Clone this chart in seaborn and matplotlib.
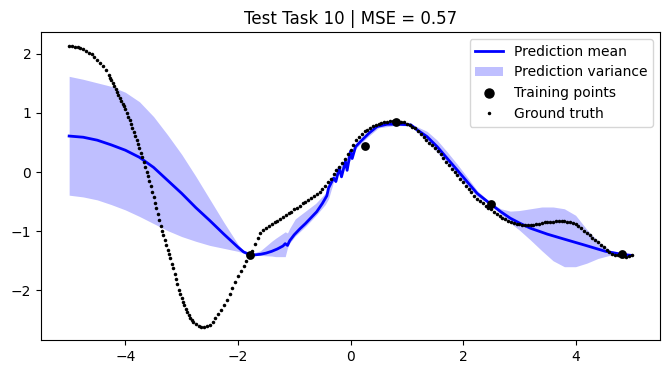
import numpy as np
import pandas as pd
import seaborn as sns
import matplotlib.pyplot as plt
from matplotlib.lines import Line2D
from matplotlib.patches import Patch

# ground truth (three sampling segments, denser where the curve is steep)
gt_y1 = [2.13, 2.13, 2.12, 2.11, 2.10, 2.08, 2.05, 2.02, 1.99, 1.95, 1.90, 1.85, 1.79, 1.72, 1.64]
gt_y2 = [1.60, 1.55, 1.51, 1.46, 1.41, 1.36, 1.31, 1.26, 1.21, 1.16, 1.11, 1.06,
         1.00, 0.94, 0.88, 0.82, 0.75, 0.68, 0.61, 0.54, 0.47, 0.40, 0.32, 0.25,
         0.17, 0.09, 0.01, -0.07, -0.15, -0.24, -0.33, -0.42, -0.52, -0.61, -0.71, -0.81,
         -0.91, -0.99, -1.07, -1.15, -1.23, -1.31, -1.39, -1.46, -1.55, -1.63, -1.72, -1.81,
         -1.90, -1.99, -2.07, -2.13, -2.19, -2.25, -2.31, -2.36, -2.41, -2.46, -2.50, -2.53]
gt_y3 = [-2.57, -2.60, -2.62, -2.62, -2.61, -2.58, -2.53, -2.47, -2.40, -2.33,
         -2.25, -2.16, -2.06, -1.96, -1.86, -1.76, -1.67, -1.59, -1.51, -1.44,
         -1.33, -1.21, -1.11, -1.03, -0.98, -0.94, -0.91, -0.88, -0.85, -0.82,
         -0.79, -0.76, -0.73, -0.70, -0.67, -0.63, -0.60, -0.57, -0.53, -0.50,
         -0.47, -0.44, -0.41, -0.37, -0.33, -0.28, -0.23, -0.17, -0.11, -0.04,
         0.03, 0.09, 0.16, 0.22, 0.30, 0.38, 0.46, 0.54, 0.60, 0.65,
         0.69, 0.72, 0.75, 0.78, 0.80, 0.82, 0.83, 0.84, 0.85, 0.86,
         0.86, 0.86, 0.86, 0.85, 0.84, 0.82, 0.80, 0.77, 0.74, 0.70,
         0.65, 0.60, 0.55, 0.50, 0.46, 0.41, 0.36, 0.30, 0.24, 0.17,
         0.12, 0.06, 0.01, -0.05, -0.11, -0.17, -0.23, -0.29, -0.34, -0.40,
         -0.45, -0.49, -0.53, -0.57, -0.60, -0.63, -0.67, -0.71, -0.75, -0.78,
         -0.80, -0.82, -0.84, -0.86, -0.87, -0.88, -0.89, -0.90, -0.90, -0.89,
         -0.89, -0.88, -0.87, -0.86, -0.85, -0.85, -0.84, -0.84, -0.83, -0.83,
         -0.83, -0.83, -0.84, -0.85, -0.86, -0.88, -0.91, -0.95, -0.99, -1.03,
         -1.07, -1.11, -1.15, -1.19, -1.23, -1.27, -1.31, -1.35, -1.38, -1.40,
         -1.41, -1.42, -1.42, -1.43, -1.42, -1.41]
gt_x = np.concatenate([np.linspace(-5.0, -4.3, len(gt_y1)),
                       np.linspace(-4.275, -2.8, len(gt_y2)),
                       np.linspace(-2.75, 5.0, len(gt_y3))])
gt_y = gt_y1 + gt_y2 + gt_y3

# prediction mean
mean_x = [-5.0, -4.75, -4.5, -4.25, -4.0, -3.75, -3.5, -3.25, -3.0, -2.75, -2.5, -2.25,
          -2.0, -1.9, -1.78, -1.7, -1.6, -1.5, -1.4, -1.3, -1.2, -1.16, -1.12, -1.08, -1.0,
          -0.9, -0.8, -0.7, -0.6, -0.5, -0.42, -0.39, -0.30, -0.26, -0.20, -0.16, -0.09, -0.06,
          0.0, 0.03, 0.09, 0.18, 0.33, 0.47, 0.65, 0.83, 1.07, 1.19, 1.36, 1.54, 1.72, 1.9,
          2.07, 2.25, 2.49, 2.67, 2.84, 3.0, 3.2, 3.5, 3.82, 4.18, 4.53, 4.82, 5.0]
mean_y = [0.61, 0.59, 0.54, 0.46, 0.37, 0.25, 0.08, -0.14, -0.36, -0.60, -0.82, -1.05,
          -1.27, -1.35, -1.40, -1.40, -1.39, -1.37, -1.34, -1.30, -1.25, -1.21, -1.24, -1.16, -1.06,
          -0.96, -0.87, -0.77, -0.67, -0.53, -0.40, -0.27, -0.10, -0.16, 0.07, -0.08, 0.18, 0.03,
          0.35, 0.23, 0.43, 0.52, 0.66, 0.77, 0.81, 0.81, 0.80, 0.71, 0.60, 0.43, 0.23, 0.03,
          -0.16, -0.36, -0.54, -0.67, -0.78, -0.86, -0.95, -1.05, -1.14, -1.24, -1.34, -1.39, -1.41]

# prediction variance band
band_x = [-5.0, -4.75, -4.5, -4.25, -4.0, -3.75, -3.5, -3.25, -3.0, -2.75, -2.5, -2.25,
          -2.0, -1.9, -1.78, -1.6, -1.4, -1.33, -1.16, -1.12, -1.08, -0.98, -0.8, -0.62,
          -0.45, -0.39, -0.3, -0.2, -0.1, 0.0, 0.1, 0.2, 0.35, 0.5, 0.8, 1.07, 1.2, 1.36,
          1.54, 1.72, 1.9, 2.07, 2.25, 2.49, 2.67, 2.84, 3.0, 3.2, 3.4, 3.6, 3.8, 4.0, 4.2,
          4.4, 4.6, 4.82, 5.0]
band_upper = [1.62, 1.57, 1.51, 1.45, 1.35, 1.19, 0.94, 0.63, 0.30, -0.07, -0.46, -0.85,
              -1.22, -1.33, -1.39, -1.33, -1.17, -1.12, -1.01, -1.03, -0.95, -0.79, -0.66, -0.53,
              -0.36, -0.28, -0.08, 0.09, 0.22, 0.37, 0.47, 0.57, 0.69, 0.80, 0.83, 0.82, 0.76, 0.69,
              0.54, 0.34, 0.13, -0.08, -0.31, -0.52, -0.62, -0.66, -0.65, -0.62, -0.59, -0.59, -0.62,
              -0.73, -0.97, -1.17, -1.32, -1.38, -1.40]
band_lower = [-0.39, -0.42, -0.47, -0.55, -0.64, -0.75, -0.87, -0.99, -1.09, -1.17, -1.24, -1.29,
              -1.34, -1.37, -1.41, -1.41, -1.42, -1.43, -1.43, -1.28, -1.20, -1.08, -0.92, -0.74,
              -0.55, -0.45, -0.16, -0.02, 0.10, 0.20, 0.40, 0.50, 0.63, 0.75, 0.79, 0.78, 0.67, 0.53,
              0.34, 0.14, -0.05, -0.23, -0.41, -0.56, -0.71, -0.86, -0.98, -1.15, -1.33, -1.50, -1.60,
              -1.60, -1.54, -1.46, -1.41, -1.40, -1.42]

# training points
train_x = [-1.78, 0.25, 0.81, 2.49, 4.82]
train_y = [-1.41, 0.45, 0.84, -0.54, -1.39]

mse = 0.57
task = 10

df_mean = pd.DataFrame({'x': mean_x, 'y': mean_y})
df_gt = pd.DataFrame({'x': gt_x, 'y': gt_y})
df_train = pd.DataFrame({'x': train_x, 'y': train_y})

fig = plt.figure(figsize=(6.7, 3.74), dpi=100)
ax = fig.add_axes([41 / 670, 34 / 374, 619 / 670, 308 / 374])

sns.lineplot(data=df_mean, x='x', y='y', color='blue', linewidth=2, sort=False, ax=ax)
ax.fill_between(band_x, band_lower, band_upper, color='blue', alpha=0.25, linewidth=0)
sns.scatterplot(data=df_train, x='x', y='y', color='black', s=40, linewidth=0, zorder=3, ax=ax)
sns.scatterplot(data=df_gt, x='x', y='y', color='black', s=6.5, linewidth=0, zorder=4, ax=ax)

ax.set_xlim(-5.5, 5.5)
ax.set_ylim(-2.84, 2.37)
ax.set_xticks([-4, -2, 0, 2, 4])
ax.set_yticks([-2, -1, 0, 1, 2])
ax.set_xlabel('')
ax.set_ylabel('')
ax.set_title(f'Test Task {task} | MSE = {mse:.2f}')

handles = [Line2D([], [], color='blue', linewidth=2),
           Patch(facecolor='blue', alpha=0.25, linewidth=0),
           Line2D([], [], color='black', marker='o', linestyle='', markersize=6.5),
           Line2D([], [], color='black', marker='o', linestyle='', markersize=1.5)]
labels = ['Prediction mean', 'Prediction variance', 'Training points', 'Ground truth']
ax.legend(handles, labels, loc='upper right')

fig.savefig('out.png', dpi=100)
